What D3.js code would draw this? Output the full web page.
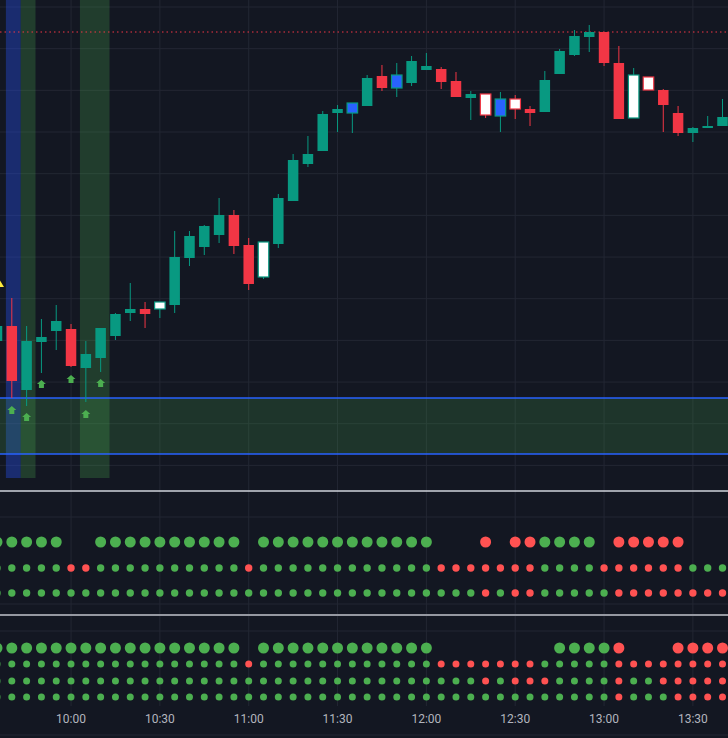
<!DOCTYPE html>
<html><head><meta charset="utf-8">
<script src="https://cdn.jsdelivr.net/npm/d3@7"></script>
<style>body{margin:0;background:#131722;}svg{display:block}</style>
</head><body><svg id="c" width="728" height="738"></svg>
<script>
// 5-minute bars starting 09:35
const startTime = "09:35";
const opens  = [159,174,110,158,169,171,132,142,164,187,191,191,195,242,253,265,285,255,223,256,299,336,349,387,387,394,424,412,417,430,431,419,402,406,384,401,391,388,426,445,463,468,437,382,423,410,387,367,373,374];
const highs  = [174,202,174,181,195,176,159,172,187,217,198,198,269,269,275,302,290,262,258,306,346,364,389,395,397,425,435,437,444,447,433,428,409,406,408,405,394,429,451,470,475,468,454,432,423,411,394,373,384,401];
const lows   = [159,102, 94,127,150,133, 98,128,160,179,172,182,187,234,245,257,246,210,221,252,299,333,349,368,367,394,409,403,414,430,411,403,380,382,368,381,374,388,426,444,448,434,381,382,410,368,364,358,373,374];
const closes = [174,119,159,163,179,134,146,172,186,191,186,198,243,264,274,285,254,216,258,302,340,346,386,391,397,422,412,425,439,434,418,403,406,385,401,391,387,420,449,464,468,437,381,425,410,395,367,372,374,383];
const fills  = "nnnnnnnnnnnwnnnnnnwnnnnnbnnbnnnnnwbwnnnnnnnwwnnnnn"; // w=white body, b=blue body
const triangleIdx = 0, triangleVal = 217;
const arrowIdx = [1,2,3,5,6,7];
const arrowVal = [90,83,116,121,86,117];
const refLine = 468;           // dotted red level
const zoneTop = 102, zoneBottom = 46; // support zone
const bandBlue = [[0.6,1.6]], bandGreen = [[1.6,2.6],[5.6,7.6]];
const timeLabels = ["10:00","10:30","11:00","11:30","12:00","12:30","13:00","13:30"];
const pane1Rows = [
 "GGGGG..GGGGGGGGGG.GGGGGGGGGGGG...R.RRGGGG.RRRRR...",
 "GGGGGRRGGGGGGGGGGRGGGGGGGGGGGGRRRRRRRGGGGRRRRRRGGG",
 "GGGGGGGGGGGGGGGGGGGGGGGGGGGGGGGGGRGRRGGGGGRRRRRRRR"];
const pane2Rows = [
 "GGGGGGGGGGGGGGGGG.GGGGGGGGGGGG........GGGGR...RRRR",
 "GGGGGGGGGGGGGGGGGRGGGGGGGGGGGGRRRRRRRGGGGGRRRRRRRR",
 "GGGGGGGGGGGGGGGGGGGGGGGGGGGGGGGGGRGRRRGGGGRGGRRRRR",
 "GGGGGGGGGGGGGGGGGGGGGGGGGGGGGGGGGGGGGGGGGGRGGGRRRR"];

const parse = d3.timeParse("%H:%M");
const t0 = parse(startTime);
const times = opens.map((_, i) => d3.timeMinute.offset(t0, 5 * i));
const W = 728;
const svg = d3.select("#c");
const x = d3.scaleTime().domain([times[0], times[times.length - 1]]).range([-3, 722.5]);
const y = d3.scaleLinear().domain([22, 500]).range([478, 0]);
const GREEN = "#089981", RED = "#f23645", DG = "#4caf50", DR = "#ff5252";
const grid = "#232733";

svg.append("rect").attr("width", 728).attr("height", 738).attr("fill", "#131722");
const hg = d3.range(0, 12).map(k => 493 - 41.67 * k);
svg.selectAll(".hg").data(hg).join("line").attr("x1", 0).attr("x2", W)
  .attr("y1", d => y(d)).attr("y2", d => y(d)).attr("stroke", grid);
[517, 604, 631, 735].forEach(v => svg.append("line").attr("x1", 0).attr("x2", W).attr("y1", v).attr("y2", v).attr("stroke", grid));
svg.selectAll(".vg").data(timeLabels).join("line")
  .attr("x1", d => x(parse(d))).attr("x2", d => x(parse(d))).attr("y1", 0).attr("y2", 706).attr("stroke", grid);

const bw = x(times[1]) - x(times[0]);
const xi = v => x(times[0]) + v * bw;
bandBlue.forEach(b => svg.append("rect").attr("x", xi(b[0])).attr("width", xi(b[1]) - xi(b[0])).attr("y", 0).attr("height", 478).attr("fill", "rgba(41,82,255,0.35)"));
bandGreen.forEach(b => svg.append("rect").attr("x", xi(b[0])).attr("width", xi(b[1]) - xi(b[0])).attr("y", 0).attr("height", 478).attr("fill", "rgba(76,175,80,0.25)"));
svg.append("rect").attr("x", 0).attr("width", W).attr("y", y(zoneTop)).attr("height", y(zoneBottom) - y(zoneTop)).attr("fill", "rgba(76,175,80,0.2)");
[zoneTop, zoneBottom].forEach(v => svg.append("line").attr("x1", 0).attr("x2", W).attr("y1", y(v)).attr("y2", y(v)).attr("stroke", "#2962ff").attr("stroke-width", 1.3));
svg.append("line").attr("x1", 0).attr("x2", W).attr("y1", y(refLine)).attr("y2", y(refLine))
  .attr("stroke", RED).attr("stroke-dasharray", "1.5,3");

const cw = 10.5;
opens.forEach((o, i) => {
  const c = closes[i], up = c >= o, col = up ? GREEN : RED, cx = x(times[i]);
  svg.append("line").attr("x1", cx).attr("x2", cx).attr("y1", y(highs[i])).attr("y2", y(lows[i])).attr("stroke", col);
  const top = y(Math.max(o, c)), h = Math.max(2, Math.abs(y(o) - y(c)));
  const f = fills[i];
  svg.append("rect").attr("x", cx - cw / 2).attr("width", cw).attr("y", top).attr("height", h)
    .attr("fill", f === "w" ? "#ffffff" : f === "b" ? "#2962ff" : col)
    .attr("stroke", f === "n" ? "none" : col).attr("stroke-width", 1.2);
});
const tx = x(times[triangleIdx]) + 2, ty = y(triangleVal);
svg.append("path").attr("d", `M${tx - 5},${ty + 4}L${tx},${ty - 4}L${tx + 5},${ty + 4}Z`).attr("fill", "#ffeb3b");
arrowIdx.forEach((ix, k) => {
  const ax = x(times[ix]), ay = y(arrowVal[k]);
  svg.append("path").attr("d", `M${ax},${ay - 4}L${ax + 4.5},${ay}L${ax + 2.5},${ay}L${ax + 2.5},${ay + 4}L${ax - 2.5},${ay + 4}L${ax - 2.5},${ay}L${ax - 4.5},${ay}Z`).attr("fill", DG);
});

svg.append("line").attr("x1", 0).attr("x2", W).attr("y1", 491).attr("y2", 491).attr("stroke", "#d1d4dc").attr("stroke-width", 1.5);
svg.append("line").attr("x1", 0).attr("x2", W).attr("y1", 615).attr("y2", 615).attr("stroke", "#9598a1").attr("stroke-width", 2);

function dots(rows, ys, rs) {
  rows.forEach((row, r) => {
    row.split("").forEach((ch, i) => {
      if (ch === ".") return;
      svg.append("circle").attr("cx", x(times[i])).attr("cy", ys[r]).attr("r", rs[r]).attr("fill", ch === "G" ? DG : DR);
    });
  });
}
dots(pane1Rows, [542, 568, 593], [5.5, 3.7, 3.7]);
dots(pane2Rows, [648, 664, 681, 697], [5.5, 3.5, 3.5, 3.5]);

svg.selectAll(".tl").data(timeLabels).join("text")
  .attr("x", d => x(parse(d))).attr("y", 723).attr("text-anchor", "middle")
  .attr("font-family", "Roboto, sans-serif").attr("font-size", 12).attr("fill", "#b2b5be").text(d => d);
</script></body></html>
